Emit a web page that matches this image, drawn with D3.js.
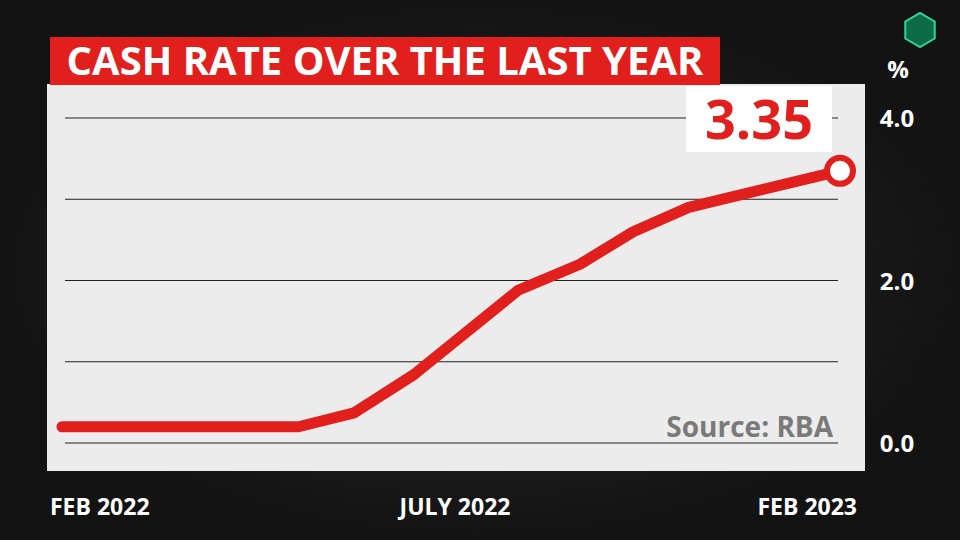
<!DOCTYPE html><html><head><meta charset="utf-8"><script src="https://cdn.jsdelivr.net/npm/d3@7"></script>
<style>body{margin:0;background:#1b1a1b}svg{display:block}text{font-family:"Open Sans",sans-serif;font-weight:700}</style></head><body>
<script>
const dates=["2022-02-01","2022-05-23","2022-06-18","2022-07-16","2022-09-03","2022-10-02","2022-10-27","2022-11-22","2023-02-01"];
const rates=[0.2,0.2,0.37,0.84,1.88,2.2,2.6,2.9,3.35];
const yTicks=[0,1,2,3,4];
const yTickLabels=["0.0","","2.0","","4.0"];
const xLabels=["FEB 2022","JULY 2022","FEB 2023"];
const title="CASH RATE OVER THE LAST YEAR";
const latest="3.35";
const source="Source: RBA";

const W=960,H=540,red="#e1201e";
const svg=d3.select("body").append("svg").attr("width",W).attr("height",H);
const bg=svg.append("defs").append("radialGradient").attr("id","bg");
bg.append("stop").attr("offset","0%").attr("stop-color","#2e2c2e");
bg.append("stop").attr("offset","100%").attr("stop-color","#141314");
svg.append("rect").attr("width",W).attr("height",H).attr("fill","url(#bg)");
svg.append("rect").attr("x",47).attr("y",84).attr("width",818).attr("height",387).attr("fill","#ececec");

const parse=d3.timeParse("%Y-%m-%d");
const x=d3.scaleTime().domain([parse(dates[0]),parse(dates[dates.length-1])]).range([62,840]);
const y=d3.scaleLinear().domain([0,4]).range([443,118]);
const g=svg.append("g");
yTicks.forEach((t,i)=>{
 g.append("line").attr("x1",65).attr("x2",838).attr("y1",y(t)).attr("y2",y(t)).attr("stroke","#222").attr("stroke-width",1);
 if(yTickLabels[i])g.append("text").attr("x",897).attr("y",y(t)+9).attr("text-anchor","middle").attr("fill","#fff").attr("font-size",24).text(yTickLabels[i]);
});
svg.append("text").attr("x",898).attr("y",78).attr("text-anchor","middle").attr("fill","#fff").attr("font-size",24).text("%");
svg.append("text").attr("x",833).attr("y",437).attr("text-anchor","end").attr("fill","#7a7a7a").attr("font-size",28).text(source);
const data=dates.map((d,i)=>({d:parse(d),v:rates[i]}));
svg.append("path").datum(data).attr("d",d3.line().x(p=>x(p.d)).y(p=>y(p.v))).attr("fill","none").attr("stroke",red).attr("stroke-width",11).attr("stroke-linejoin","round").attr("stroke-linecap","round");
const last=data[data.length-1];
svg.append("circle").attr("cx",x(last.d)).attr("cy",y(last.v)).attr("r",13).attr("fill","#fff").attr("stroke",red).attr("stroke-width",6);
svg.append("rect").attr("x",686).attr("y",86).attr("width",146).attr("height",66).attr("fill","#fff");
svg.append("text").attr("x",759).attr("y",139).attr("text-anchor","middle").attr("fill",red).attr("font-size",54).text(latest);
svg.append("rect").attr("x",50).attr("y",37).attr("width",670).attr("height",48).attr("fill",red);
svg.append("text").attr("x",385).attr("y",75).attr("text-anchor","middle").attr("fill","#fff").attr("font-size",40).text(title);
const xl=[[50,"start"],[455,"middle"],[857,"end"]];
xLabels.forEach((t,i)=>svg.append("text").attr("x",xl[i][0]).attr("y",515).attr("text-anchor",xl[i][1]).attr("fill","#fff").attr("font-size",23).text(t));
const hex=d3.range(6).map(k=>{const a=Math.PI/3*k+Math.PI/6;return [920+17*Math.cos(a),30+17*Math.sin(a)]});
svg.append("polygon").attr("points",hex.join(" ")).attr("fill","#0e6b4a").attr("stroke","#2fd59a").attr("stroke-width",2);
</script></body></html>
